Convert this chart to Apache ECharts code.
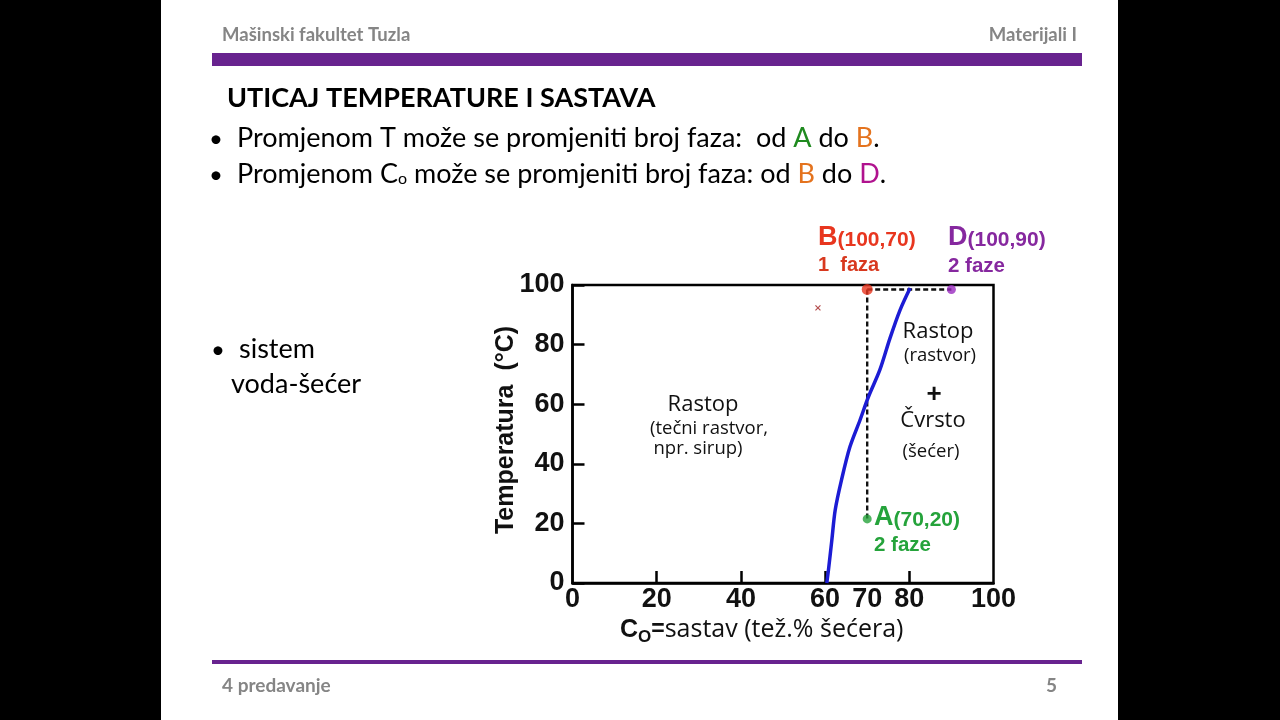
<!DOCTYPE html>
<html>
<head>
<meta charset="utf-8">
<script src="https://cdn.jsdelivr.net/npm/echarts@6/dist/echarts.min.js"></script>
<style>
html,body{margin:0;padding:0;background:#000;}
#main{width:1280px;height:720px;}
</style>
</head>
<body>
<div id="main"></div>
<script>
// ---- data ----
var xTickLabels = [0, 20, 40, 60, 70, 80, 100];
var xTickMarks = [20, 40, 60, 80];
var yTickLabels = [0, 20, 40, 60, 80, 100];
// solubility (liquidus) curve: [composition %, temperature °C]
var curveC = [60.4, 60.8, 61.6, 62.4, 63.9, 65.9, 68.3, 70.3, 73.0, 75.4, 77.8, 80.2];
var curveT = [0, 4.4, 14.4, 24.5, 34.6, 45.7, 54.7, 62.5, 71.5, 82.1, 91.6, 99];
var pointNames = ['B', 'D', 'A'];
var pointC = [70, 90, 70];
var pointT = [98.5, 98.5, 21.5];
var pointColors = ['#e8361f', '#9a2bbf', '#25a33b'];
var strayMark = [58.3, 92.3];

var curveData = curveC.map(function (c, i) { return [c, curveT[i]]; });
var pB = [pointC[0], pointT[0]], pD = [pointC[1], pointT[1]], pA = [pointC[2], pointT[2]];

var chart = echarts.init(document.getElementById('main'));

var slideFont = 'Lato';
var grayText = '#858585';
var bodySize = 27;

function txt(x, y, text, style) {
  var s = Object.assign({ text: text, fill: '#111', fontFamily: 'Open Sans', fontSize: 18, textAlign: 'center', textVerticalAlign: 'middle' }, style || {});
  return { type: 'text', x: x, y: y, style: s, z: 100 };
}

var graphics = [
  // black side bands
  { type: 'rect', shape: { x: 0, y: 0, width: 161, height: 720 }, style: { fill: '#000' }, z: -10 },
  { type: 'rect', shape: { x: 1118, y: 0, width: 162, height: 720 }, style: { fill: '#000' }, z: -10 },
  { type: 'rect', shape: { x: 161, y: 0, width: 957, height: 720 }, style: { fill: '#fff' }, z: -11 },
  // header
  txt(222, 35, 'Mašinski fakultet Tuzla', { fontFamily: slideFont, fontWeight: 'bold', fontSize: 18.5, fill: grayText, textAlign: 'left' }),
  txt(1077, 35, 'Materijali I', { fontFamily: slideFont, fontWeight: 'bold', fontSize: 18.5, fill: grayText, textAlign: 'right' }),
  { type: 'rect', shape: { x: 212, y: 53, width: 870, height: 13 }, style: { fill: '#68238f' }, z: 5 },
  // title
  txt(227, 98, 'UTICAJ TEMPERATURE I SASTAVA', { fontFamily: slideFont, fontWeight: 'bold', fontSize: 27, fill: '#000', textAlign: 'left' }),
  // bullets
  txt(216, 139, '•', { fontFamily: slideFont, fontSize: 24, fill: '#000' }),
  {
    type: 'text', x: 237, y: 138, z: 100,
    style: {
      text: '{n|Promjenom T može se promjeniti broj faza:  od }{g|A}{n| do }{o|B}{n|.}',
      textVerticalAlign: 'middle', textAlign: 'left',
      rich: {
        n: { fontFamily: slideFont, fontSize: bodySize, fill: '#000' },
        g: { fontFamily: slideFont, fontSize: bodySize, fill: '#1f8a1f' },
        o: { fontFamily: slideFont, fontSize: bodySize, fill: '#e4731e' }
      }
    }
  },
  txt(216, 175, '•', { fontFamily: slideFont, fontSize: 24, fill: '#000' }),
  {
    type: 'text', x: 237, y: 174, z: 100,
    style: {
      text: '{n|Promjenom C}{s|o}{n| može se promjeniti broj faza: od }{o|B}{n| do }{m|D}{n|.}',
      textVerticalAlign: 'middle', textAlign: 'left',
      rich: {
        n: { fontFamily: slideFont, fontSize: bodySize, fill: '#000' },
        s: { fontFamily: slideFont, fontSize: 16, fill: '#000', padding: [10, 0, 0, 0] },
        o: { fontFamily: slideFont, fontSize: bodySize, fill: '#e4731e' },
        m: { fontFamily: slideFont, fontSize: bodySize, fill: '#b0128e' }
      }
    }
  },
  txt(218, 350, '•', { fontFamily: slideFont, fontSize: 24, fill: '#000' }),
  txt(239, 349, 'sistem', { fontFamily: slideFont, fontSize: bodySize, fill: '#000', textAlign: 'left' }),
  txt(231, 384, 'voda-šećer', { fontFamily: slideFont, fontSize: bodySize, fill: '#000', textAlign: 'left' }),
  // footer
  { type: 'rect', shape: { x: 212, y: 660, width: 870, height: 4 }, style: { fill: '#68238f' }, z: 5 },
  txt(222, 686, '4 predavanje', { fontFamily: slideFont, fontWeight: 'bold', fontSize: 19, fill: grayText, textAlign: 'left' }),
  txt(1057, 686, '5', { fontFamily: slideFont, fontWeight: 'bold', fontSize: 19, fill: grayText, textAlign: 'right' }),

  // chart axis titles
  {
    type: 'text', x: 506, y: 430, rotation: Math.PI / 2, z: 100,
    style: { text: 'Temperatura  (°C)', fontFamily: 'Liberation Sans', fontWeight: 'bold', fontSize: 25, fill: '#111', textAlign: 'center', textVerticalAlign: 'middle' }
  },
  {
    type: 'text', x: 620, y: 630, z: 100,
    style: {
      text: '{c|C}{s|O}{e|=}{t|sastav (tež.% šećera)}',
      textAlign: 'left', textVerticalAlign: 'middle',
      rich: {
        c: { fontFamily: 'Liberation Sans', fontWeight: 'bold', fontSize: 25, fill: '#111' },
        s: { fontFamily: 'Liberation Sans', fontWeight: 'bold', fontSize: 17, fill: '#111', padding: [14, 0, 0, 0] },
        e: { fontFamily: 'Liberation Sans', fontWeight: 'bold', fontSize: 23, fill: '#111' },
        t: { fontFamily: 'Open Sans', fontSize: 25, fill: '#111' }
      }
    }
  },
  // region labels
  txt(703, 405, 'Rastop', { fontSize: 22 }),
  txt(709, 429, '(tečni rastvor,', { fontSize: 18.5 }),
  txt(698, 449, 'npr. sirup)', { fontSize: 18.5 }),
  txt(938, 332, 'Rastop', { fontSize: 22 }),
  txt(940, 356, '(rastvor)', { fontSize: 18.5 }),
  txt(934, 395, '+', { fontSize: 26, fontWeight: 'bold', fontFamily: 'Liberation Sans' }),
  txt(933, 421, 'Čvrsto', { fontSize: 22 }),
  txt(931, 452, '(šećer)', { fontSize: 18.5 }),
  // point annotations
  {
    type: 'text', x: 818, y: 238, z: 100,
    style: {
      text: '{b|B}{p|(100,70)}', textAlign: 'left', textVerticalAlign: 'middle',
      rich: {
        b: { fontFamily: 'Liberation Sans', fontWeight: 'bold', fontSize: 27, fill: pointColors[0] },
        p: { fontFamily: 'Liberation Sans', fontWeight: 'bold', fontSize: 21, fill: pointColors[0], padding: [5, 0, 0, 0] }
      }
    }
  },
  txt(818, 265, '1  faza', { fontFamily: 'Liberation Sans', fontWeight: 'bold', fontSize: 20, fill: '#d8391f', textAlign: 'left' }),
  {
    type: 'text', x: 948, y: 238, z: 100,
    style: {
      text: '{b|D}{p|(100,90)}', textAlign: 'left', textVerticalAlign: 'middle',
      rich: {
        b: { fontFamily: 'Liberation Sans', fontWeight: 'bold', fontSize: 27, fill: '#86289f' },
        p: { fontFamily: 'Liberation Sans', fontWeight: 'bold', fontSize: 21, fill: '#86289f', padding: [5, 0, 0, 0] }
      }
    }
  },
  txt(948, 266, '2 faze', { fontFamily: 'Liberation Sans', fontWeight: 'bold', fontSize: 20.5, fill: '#86289f', textAlign: 'left' }),
  {
    type: 'text', x: 874, y: 518, z: 100,
    style: {
      text: '{b|A}{p|(70,20)}', textAlign: 'left', textVerticalAlign: 'middle',
      rich: {
        b: { fontFamily: 'Liberation Sans', fontWeight: 'bold', fontSize: 27, fill: pointColors[2] },
        p: { fontFamily: 'Liberation Sans', fontWeight: 'bold', fontSize: 21, fill: pointColors[2], padding: [5, 0, 0, 0] }
      }
    }
  },
  txt(874, 545, '2 faze', { fontFamily: 'Liberation Sans', fontWeight: 'bold', fontSize: 20.5, fill: pointColors[2], textAlign: 'left' })
];

var option = {
  backgroundColor: '#000',
  animation: false,
  grid: {
    left: 572.5, top: 285, width: 421, height: 298,
    show: true, borderColor: '#000', borderWidth: 2.5, backgroundColor: 'transparent'
  },
  xAxis: {
    type: 'value', min: 0, max: 100, interval: 10,
    axisLine: { show: true, lineStyle: { color: '#000', width: 2.5 } },
    axisTick: { show: true, inside: true, length: 12, customValues: xTickMarks, lineStyle: { color: '#000', width: 2.5 } },
    axisLabel: { customValues: xTickLabels, fontFamily: 'Liberation Sans', fontWeight: 'bold', fontSize: 27, color: '#111', margin: 3 },
    splitLine: { show: false }
  },
  yAxis: {
    type: 'value', min: 0, max: 100, interval: 20,
    axisLine: { show: true, lineStyle: { color: '#000', width: 2.5 } },
    axisTick: { show: true, inside: true, length: 12, lineStyle: { color: '#000', width: 2.5 } },
    axisLabel: { fontFamily: 'Liberation Sans', fontWeight: 'bold', fontSize: 27, color: '#111', margin: 8 },
    splitLine: { show: false }
  },
  series: [
    {
      type: 'line', data: [pB, pA], showSymbol: false, z: 3,
      lineStyle: { color: '#111', width: 2.4, type: [5, 3] }
    },
    {
      type: 'line', data: [pB, pD], showSymbol: false, z: 3,
      lineStyle: { color: '#111', width: 2.4, type: [5, 3] }
    },
    {
      type: 'line', data: curveData, smooth: 0.3, showSymbol: false, z: 4,
      lineStyle: { color: '#1c1cd4', width: 3.5 }
    },
    {
      type: 'scatter', z: 5, clip: false,
      data: pointNames.map(function (n, i) {
        return { name: n, value: [pointC[i], pointT[i]], itemStyle: { color: pointColors[i] }, symbolSize: i === 0 ? 11 : 9 };
      })
    },
    {
      type: 'scatter', z: 5, data: [strayMark], symbol: 'path://M0,0L10,10M10,0L0,10', symbolSize: 5,
      itemStyle: { color: 'transparent', borderColor: '#a02020', borderWidth: 1.2 }
    }
  ],
  graphic: graphics
};
chart.setOption(option);
</script>
</body>
</html>
